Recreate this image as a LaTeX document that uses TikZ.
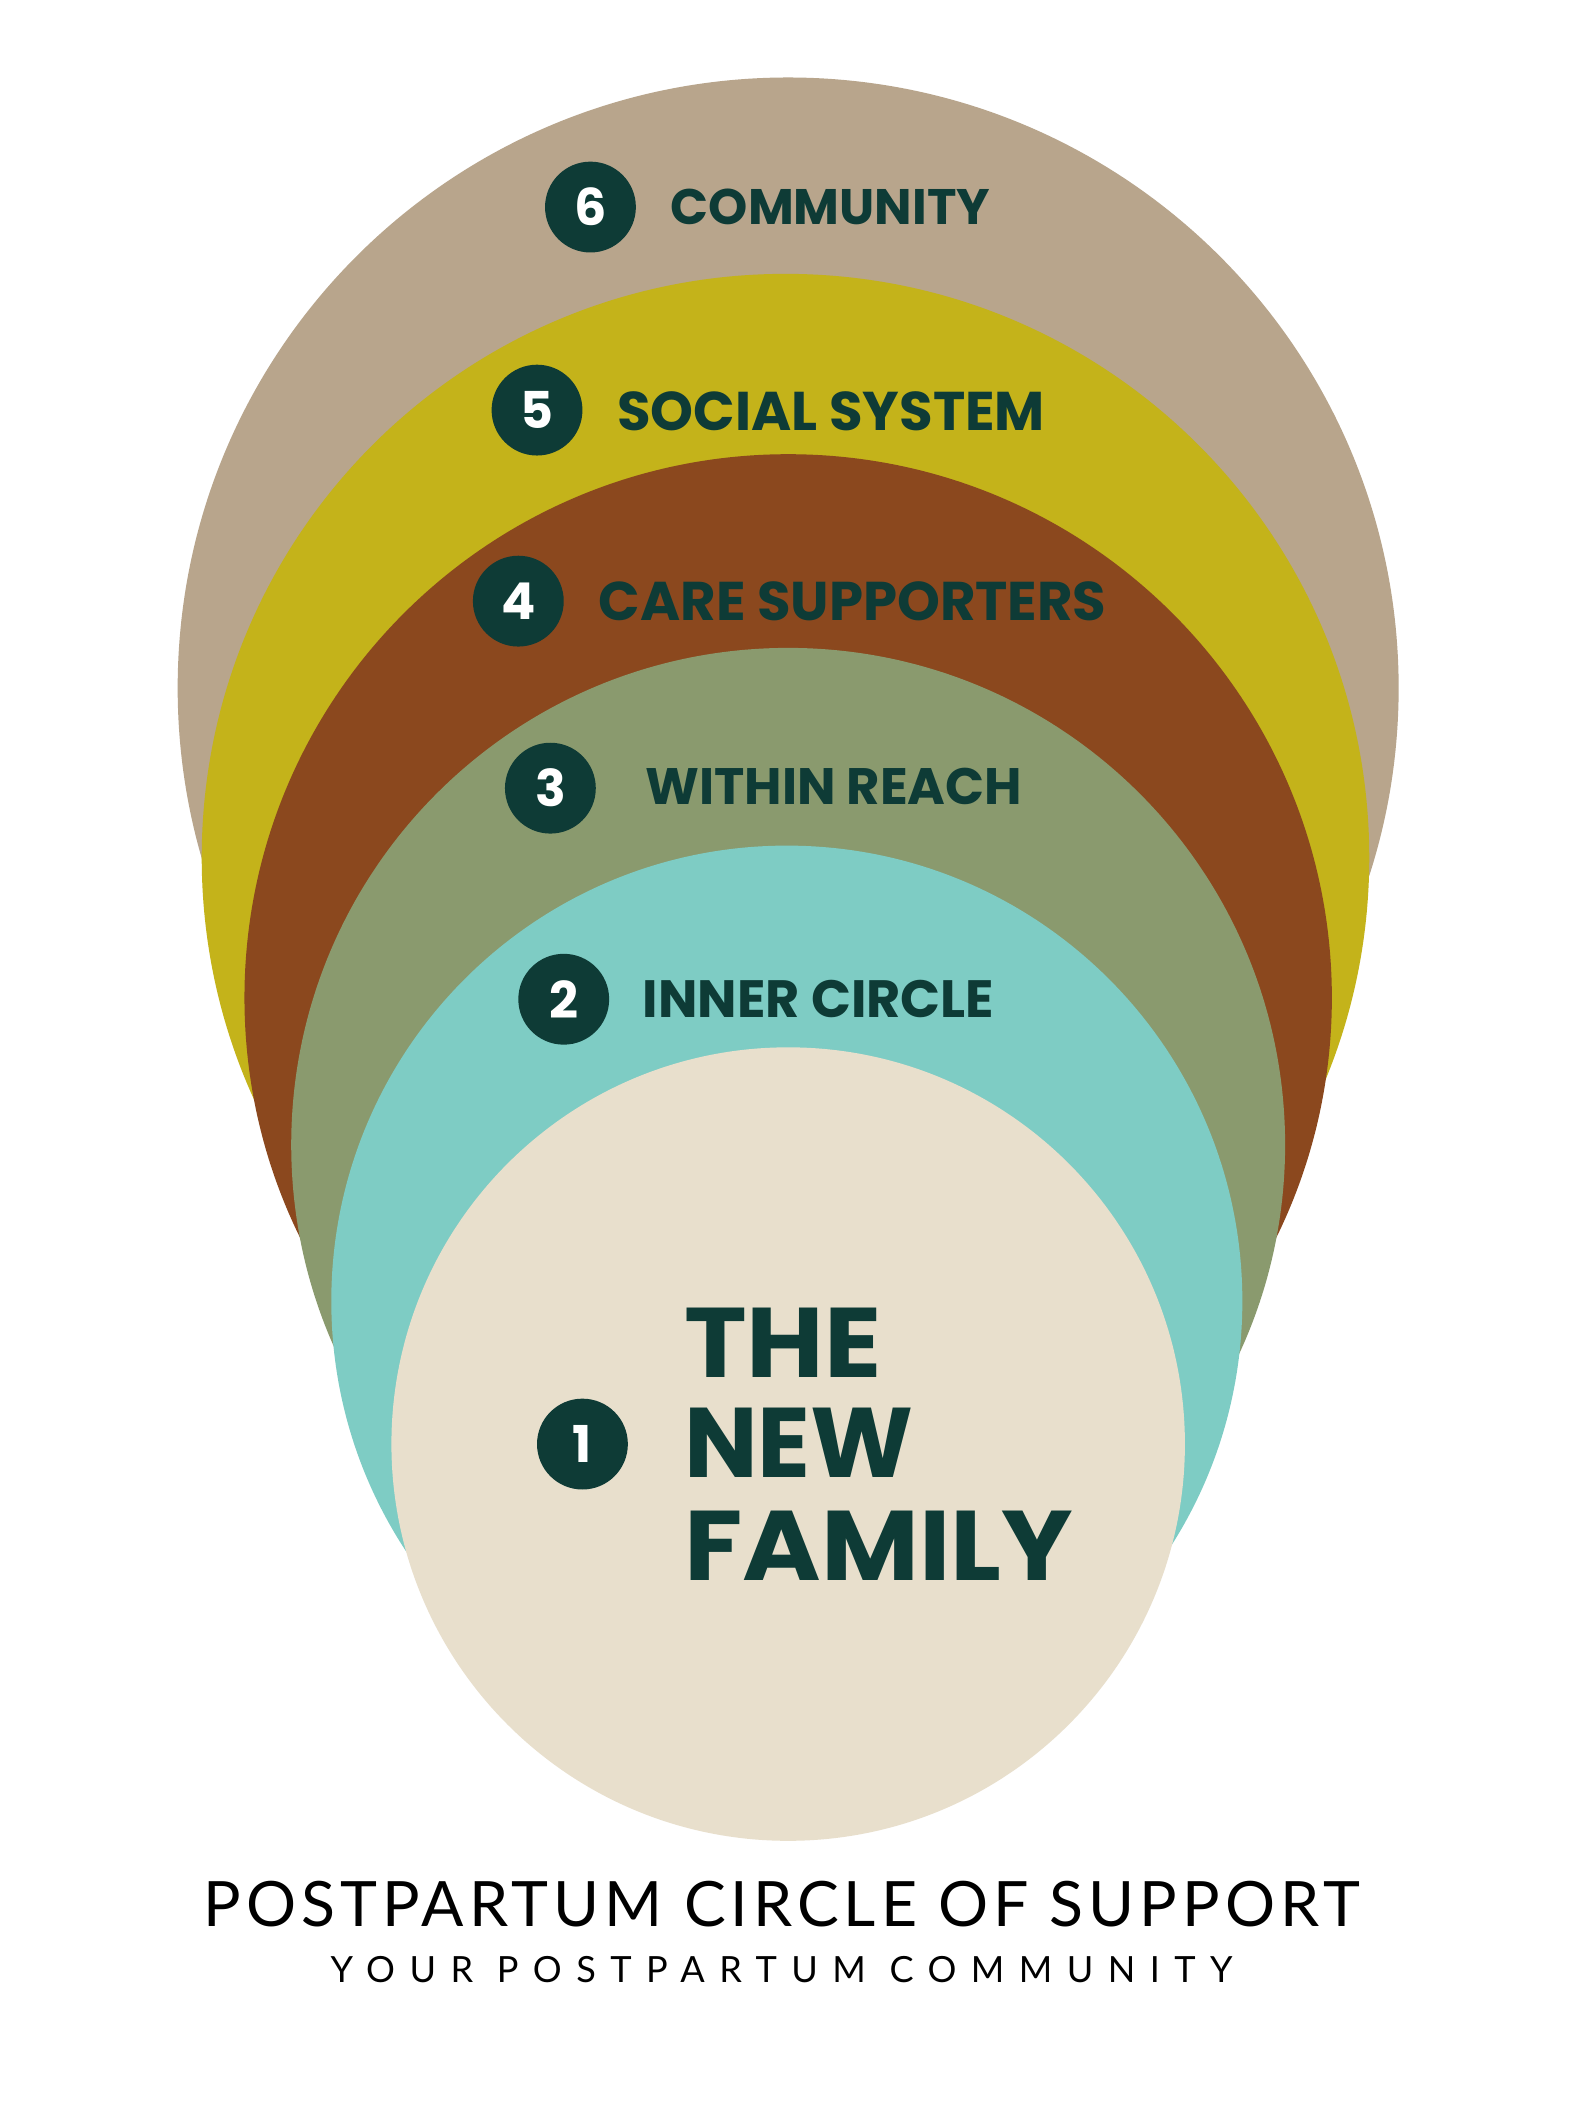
\documentclass[tikz,border=0pt]{standalone}
\usepackage{fontspec}
\setmainfont{Poppins}
\newfontfamily\lightf{Lato}
\definecolor{c6}{HTML}{B8A58C}
\definecolor{c5}{HTML}{C4B31A}
\definecolor{c4}{HTML}{8B481E}
\definecolor{c3}{HTML}{8A9A6E}
\definecolor{c2}{HTML}{7ECCC4}
\definecolor{c1}{HTML}{E8DFCC}
\definecolor{ink}{HTML}{0E3B36}
\tikzset{
 num/.style={circle,fill=ink,minimum size=68pt,inner sep=0pt,text=white,font=\bfseries\fontsize{38}{40}\selectfont},
 lab/.style={anchor=west,text=ink,inner sep=0pt,font=\bfseries}
}
\begin{document}
\begin{tikzpicture}[x=1pt,y=-1pt]
\useasboundingbox[fill=white] (0,0) rectangle (1188,1584);
\fill[c6] (590,515) circle (457);
\fill[c5] (588,642) circle (437);
\fill[c4] (590,747) circle (407);
\fill[c3] (590,857) circle (372);
\fill[c2] (589,974) circle (341);
\fill[c1] (590,1081) circle (297);
\node[num] (n6) at (442,155) {6};
\node[num] (n5) at (402,307) {5};
\node[num] (n4) at (388,450) {4};
\node[num] (n3) at (412,590) {3};
\node[num] (n2) at (422,748) {2};
\node[num] (n1) at (436,1081) {1};
\node[lab] (t6) at (502,155) {\resizebox{239pt}{!}{COMMUNITY}};
\node[lab] (t5) at (462,308) {\resizebox{320pt}{!}{SOCIAL SYSTEM}};
\node[lab] (t4) at (448,450) {\resizebox{380pt}{!}{CARE SUPPORTERS}};
\node[lab] (t3) at (483,589) {\resizebox{282pt}{!}{WITHIN REACH}};
\node[lab] (t2) at (481,748) {\resizebox{263pt}{!}{INNER CIRCLE}};
\node[lab,font=\bfseries\fontsize{58}{60}\selectfont] (t1a) at (512,1005) {\resizebox{148pt}{52pt}{THE}};
\node[lab,font=\bfseries\fontsize{58}{60}\selectfont] (t1b) at (512,1080) {\resizebox{172pt}{52pt}{NEW}};
\node[lab,font=\bfseries\fontsize{58}{60}\selectfont] (t1c) at (512,1157) {\resizebox{291pt}{52pt}{FAMILY}};
\node[inner sep=0pt,text=black] (title) at (585,1425) {\resizebox{865pt}{!}{\lightf\addfontfeature{LetterSpace=8} POSTPARTUM CIRCLE OF SUPPORT}};
\node[inner sep=0pt,text=black] (sub) at (585,1474) {\resizebox{675pt}{!}{\lightf\addfontfeature{LetterSpace=40} YOUR POSTPARTUM COMMUNITY}};
\end{tikzpicture}
\end{document}
